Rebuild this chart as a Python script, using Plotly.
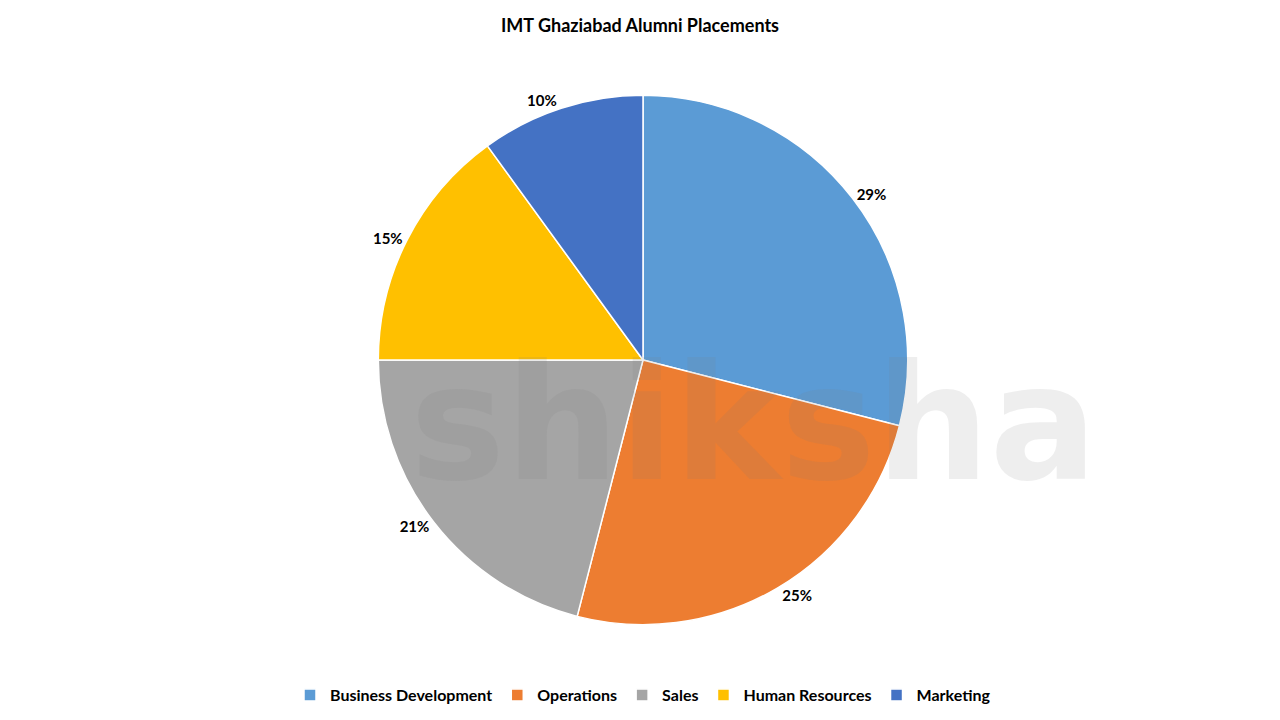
import plotly.graph_objects as go

categories = ["Business Development", "Operations", "Sales", "Human Resources", "Marketing"]
values = [29, 25, 21, 15, 10]
colors = ["#5B9BD5", "#ED7D31", "#A5A5A5", "#FFC000", "#4472C4"]

fig = go.Figure(go.Pie(
    labels=categories, values=values, sort=False, direction="clockwise", rotation=0,
    marker=dict(colors=colors, line=dict(color="white", width=1.5)),
    texttemplate="<b>%{percent:.0%}</b>", textposition="outside",
    textfont=dict(family="Lato", size=15, color="black"),
    domain=dict(x=[0, 1], y=[0.124, 0.876]),
    hoverinfo="label+percent",
))
fig.add_annotation(x=0.625, y=0.41, xref="paper", yref="paper", text="<b>shiksha</b>",
                   showarrow=False, font=dict(family="DejaVu Sans", size=160, color="rgba(120,120,120,0.13)"))
fig.update_layout(
    width=1264, height=704, paper_bgcolor="white", plot_bgcolor="white",
    margin=dict(l=0, r=0, t=0, b=0),
    title=dict(text="<b>IMT Ghaziabad Alumni Placements</b>", x=0.5, y=0.984, xanchor="center", yanchor="top",
               font=dict(family="Lato", size=18, color="black")),
    legend=dict(orientation="h", x=0.5, xanchor="center", y=0.0, yanchor="bottom",
                font=dict(family="Lato", size=16, color="black", weight="bold"), itemwidth=30),
)
fig.write_html("out.html", config={"responsive": False})
